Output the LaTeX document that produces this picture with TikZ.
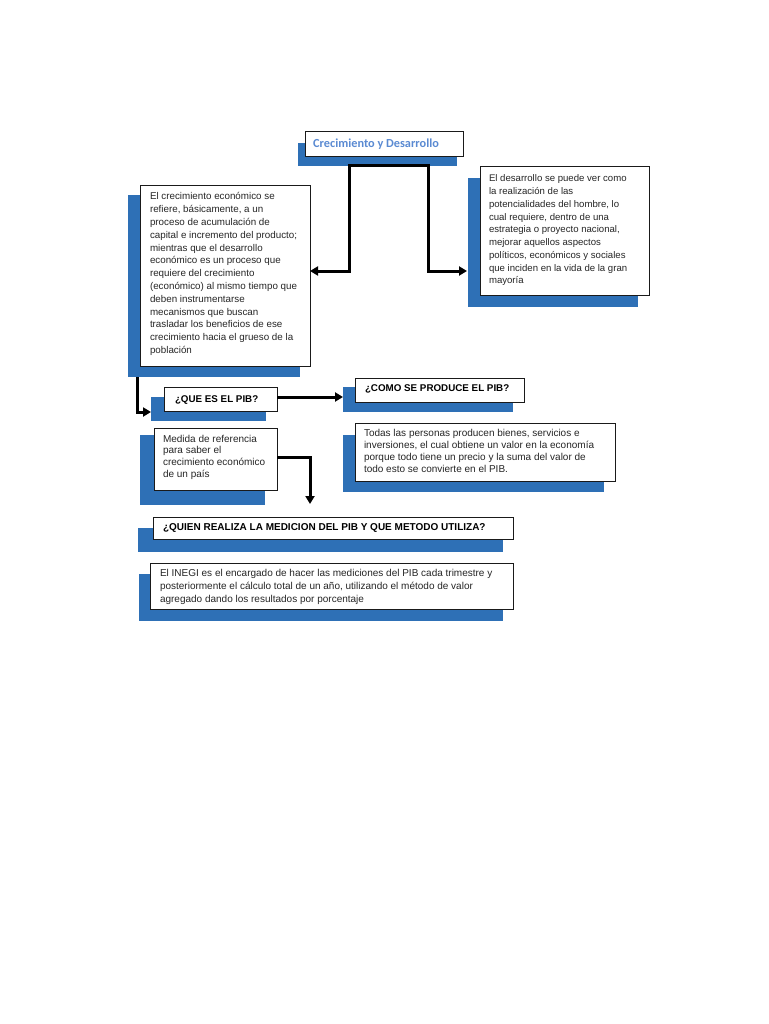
\documentclass[tikz,border=0pt]{standalone}
\usepackage{fontspec}
\setmainfont{Liberation Sans}
\newfontfamily\titlefont{Carlito}
\usetikzlibrary{arrows.meta,calc}
\definecolor{shblue}{HTML}{2E70B6}
\definecolor{ttblue}{HTML}{5A8AD2}
\definecolor{edge}{HTML}{1A1A1A}
\begin{document}
\begin{tikzpicture}[x=1pt,y=-1pt,
  shadowbox/.style={fill=shblue,draw=none,inner sep=0pt,outer sep=0pt,anchor=north west},
  whitebox/.style={fill=white,draw=edge,line width=0.8pt,inner sep=0pt,outer sep=0pt,anchor=north west},
  bodytext/.style={anchor=north west,inner sep=0pt,outer sep=0pt,align=left,text=black!85},
  headtext/.style={anchor=base west,inner sep=0pt,outer sep=0pt,text=black,font=\fontsize{9.8}{12}\selectfont\bfseries},
  conn/.style={line width=3pt,draw=black,line join=miter},
  ctip/.tip={Triangle[length=8pt,width=9pt]}
]
\useasboundingbox[fill=white] (0,0) rectangle (768,1024);

% title
\node[shadowbox,minimum width=159pt,minimum height=23pt] (ts) at (298,143) {};
\node[whitebox,minimum width=158pt,minimum height=25pt] (tw) at (305,131) {};
\node[anchor=base west,inner sep=0pt,text=ttblue,font=\fontsize{12.3}{14}\selectfont\titlefont\bfseries] (tt) at (313,148) {Crecimiento y Desarrollo};

% left box
\node[shadowbox,minimum width=172pt,minimum height=182pt] (ls) at (128,195) {};
\node[whitebox,minimum width=170pt,minimum height=181pt] (lw) at (140,185) {};
\node[bodytext,font=\fontsize{9.8}{12.8}\selectfont] (lt) at (150,191) {\strut El crecimiento económico se\\
refiere, básicamente, a un\\
proceso de acumulación de\\
capital e incremento del producto;\\
mientras que el desarrollo\\
económico es un proceso que\\
requiere del crecimiento\\
(económico) al mismo tiempo que\\
deben instrumentarse\\
mecanismos que buscan\\
trasladar los beneficios de ese\\
crecimiento hacia el grueso de la\\
población};

% right box
\node[shadowbox,minimum width=170pt,minimum height=129pt] (rs) at (468,178) {};
\node[whitebox,minimum width=169pt,minimum height=129pt] (rw) at (480,166) {};
\node[bodytext,font=\fontsize{9.6}{12.75}\selectfont] (rt) at (489,173) {\strut El desarrollo se puede ver como\\
la realización de las\\
potencialidades del hombre, lo\\
cual requiere, dentro de una\\
estrategia o proyecto nacional,\\
mejorar aquellos aspectos\\
políticos, económicos y sociales\\
que inciden en la vida de la gran\\
mayoría};

% que es el pib
\node[shadowbox,minimum width=115pt,minimum height=24pt] (qs) at (151,397) {};
\node[whitebox,minimum width=113pt,minimum height=24pt] (qw) at (164,387) {};
\node[headtext] (qt) at (175,402) {¿QUE ES EL PIB?};

% como se produce
\node[shadowbox,minimum width=170pt,minimum height=25pt] (cs) at (343,387) {};
\node[whitebox,minimum width=169pt,minimum height=24pt] (cw) at (355,378) {};
\node[headtext] (ct) at (365,391) {¿COMO SE PRODUCE EL PIB?};

% medida
\node[shadowbox,minimum width=125pt,minimum height=70pt] (ms) at (140,435) {};
\node[whitebox,minimum width=123pt,minimum height=62pt] (mw) at (154,428) {};
\node[bodytext,font=\fontsize{10}{11.7}\selectfont] (mt) at (163,434.1) {\strut Medida de referencia\\
para saber el\\
crecimiento económico\\
de un país};

% todas
\node[shadowbox,minimum width=261pt,minimum height=57pt] (os) at (343,435) {};
\node[whitebox,minimum width=260pt,minimum height=58pt] (ow) at (355,423) {};
\node[bodytext,font=\fontsize{10}{11.9}\selectfont] (ot) at (364,428.2) {\strut Todas las personas producen bienes, servicios e\\
inversiones, el cual obtiene un valor en la economía\\
porque todo tiene un precio y la suma del valor de\\
todo esto se convierte en el PIB.};

% quien
\node[shadowbox,minimum width=365pt,minimum height=24pt] (ns) at (138,528) {};
\node[whitebox,minimum width=360pt,minimum height=22pt] (nw) at (153,517) {};
\node[headtext,font=\fontsize{10}{12}\selectfont\bfseries] (nt) at (163,530) {¿QUIEN REALIZA LA MEDICION DEL PIB Y QUE METODO UTILIZA?};

% inegi
\node[shadowbox,minimum width=364pt,minimum height=47pt] (is) at (139,574) {};
\node[whitebox,minimum width=363pt,minimum height=46pt] (iw) at (150,563) {};
\node[bodytext,font=\fontsize{10}{13}\selectfont] (it) at (160,567.4) {\strut El INEGI es el encargado de hacer las mediciones del PIB cada trimestre y\\
posteriormente el cálculo total de un año, utilizando el método de valor\\
agregado dando los resultados por porcentaje};

% connectors
\coordinate (tL) at ($(ts.south west)+(51,0)$);
\coordinate (tR) at ($(ts.south west)+(130,0)$);
\coordinate (lin) at ($(lw.north east)+(0,86)$);
\coordinate (rin) at ($(rs.north west)+(-1,93)$);
\draw[conn,ctip-ctip] (lin) -| (tL) -- (tR) |- (rin);

\coordinate (lo) at ($(ls.south west)+(9,0)$);
\coordinate (qin) at ($(qs.south west)+(0,-9)$);
\draw[conn,-ctip] (lo) |- (qin);

\coordinate (qo) at ($(qw.north east)+(0,10)$);
\draw[conn,-ctip] (qo) -- (qo -| cs.west);

\coordinate (mo) at ($(mw.north east)+(0,29)$);
\coordinate (nin) at ($(nw.north west)+(157,-13)$);
\draw[conn,-ctip] (mo) -| (nin);
\end{tikzpicture}
\end{document}
